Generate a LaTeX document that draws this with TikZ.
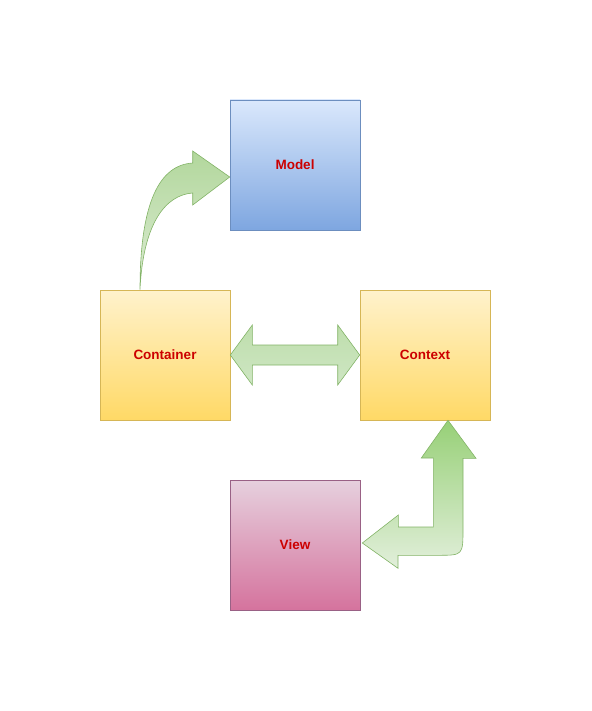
\documentclass[tikz,border=0pt]{standalone}
\usepackage{fontspec}
\setmainfont{Liberation Sans}
\usetikzlibrary{calc}

\definecolor{labelred}{HTML}{CC0000}
\definecolor{greenline}{HTML}{82B366}

\begin{document}
\begin{tikzpicture}[x=1pt,y=-1pt,thick,minimum size=130pt,
  box node/.style={rectangle,draw,line width=0.6pt,text=labelred,font=\bfseries\fontsize{13.5}{16}\selectfont},
  block arrow/.style={draw=greenline,line width=0.6pt,line join=miter}]
\tikzstyle{yellow box} = [box node,draw={rgb,255:red,214;green,182;blue,86},top color={rgb,255:red,255;green,242;blue,204},bottom color={rgb,255:red,255;green,217;blue,102}]

\useasboundingbox (0,0) rectangle (591,711);

\node[box node,draw={rgb,255:red,108;green,142;blue,191},top color={rgb,255:red,218;green,232;blue,252},bottom color={rgb,255:red,126;green,166;blue,224}] (model) at (295,165) {Model};
\node[yellow box] (container) at (165,355) {Container};
\node[yellow box] (context) at (425,355) {Context};
\node[box node,draw={rgb,255:red,153;green,97;blue,133},top color={rgb,255:red,230;green,208;blue,222},bottom color={rgb,255:red,213;green,115;blue,157}] (view) at (295,545) {View};

% Container to Model
\coordinate (curvetail) at ($(container.north)+(-25,0)$);
\coordinate (curvetip) at ($(model.west)+(0,12)$);
\shade[block arrow,top color={rgb,255:red,178;green,215;blue,156},bottom color={rgb,255:red,220;green,236;blue,212}]
  (curvetail) .. controls +(0,-88) and +(-33,2) .. ($(curvetip)+(-37,-14)$) -- ++(0,-12) -- (curvetip)
  -- ++(-37,28) -- ++(0,-12) .. controls +(-28,2) and +(3,-65) .. (curvetail) -- cycle;

% Container and Context
\shade[block arrow,top color={rgb,255:red,190;green,222;blue,172},bottom color={rgb,255:red,206;green,230;blue,195}]
  (container.east) -- ++(22,-30) -- ++(0,20) -- ($(context.west)+(-22,-10)$) -- ++(0,-20) -- (context.west)
  -- ++(-22,30) -- ++(0,-20) -- ($(container.east)+(22,10)$) -- ++(0,20) -- cycle;

% Context and View
\coordinate (ltip) at ($(context.south)+(23,0)$);
\coordinate (ltip2) at ($(view.east)+(2,-2)$);
\shade[block arrow,top color={rgb,255:red,151;green,208;blue,119},bottom color={rgb,255:red,226;green,239;blue,219}]
  (ltip) -- ++(28,38) -- ++(-13,0) -- ++(0,70) .. controls +(0,27) and +(25,0) .. ++(-25,27)
  -- ++(-40,0) -- ++(0,13) -- (ltip2) -- ++(36,-28) -- ++(0,12) -- ++(35,0) -- ++(0,-69) -- ++(-12,0) -- cycle;

\end{tikzpicture}
\end{document}
